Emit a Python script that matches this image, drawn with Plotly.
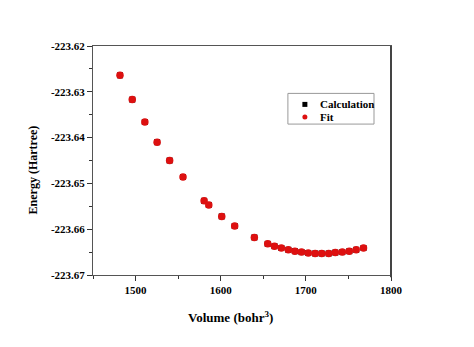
import plotly.graph_objects as go

# Unit-cell volume (bohr^3) and total energy (Hartree)
volume = [1481.7, 1496.1, 1510.9, 1525.3, 1540.0, 1555.7, 1580.5, 1586.0,
          1601.2, 1616.4, 1639.5, 1655.2, 1663.1, 1671.2, 1679.4, 1687.1,
          1694.9, 1702.8, 1710.9, 1718.6, 1726.8, 1734.6, 1742.8, 1751.0,
          1759.1, 1767.7]
energy_calc = [-223.6264, -223.6317, -223.6366, -223.6410, -223.6450, -223.6486,
               -223.6538, -223.6547, -223.6572, -223.6593, -223.6618, -223.6632,
               -223.6637, -223.6641, -223.6645, -223.6648, -223.6650, -223.6652,
               -223.6653, -223.6653, -223.6653, -223.6651, -223.6650, -223.6648,
               -223.6645, -223.6641]
energy_fit = list(energy_calc)

x_ticks = [1500, 1600, 1700, 1800]
y_ticks = [-223.62, -223.63, -223.64, -223.65, -223.66, -223.67]
series_names = ["Calculation", "Fit"]

serif = "Liberation Serif"
calc_color = "#000000"
fit_color = "#dd1010"

fig = go.Figure()
fig.add_trace(go.Scatter(
    x=volume, y=energy_calc, mode="markers", name=series_names[0],
    marker=dict(symbol="square", size=6, color=calc_color), showlegend=False,
))
fig.add_trace(go.Scatter(
    x=volume, y=energy_fit, mode="markers", name=series_names[1],
    marker=dict(symbol="circle", size=7.5, color=fit_color), showlegend=False,
))

axis_common = dict(
    showgrid=False, zeroline=False, showline=True, mirror=True,
    linecolor="#555555", linewidth=1,
    ticks="outside", ticklen=5, tickwidth=1, tickcolor="#333333",
    tickfont=dict(family=serif, size=11, color="#000000"),
)

fig.update_xaxes(
    range=[1450, 1800], tickvals=x_ticks, ticktext=[f"<b>{v}</b>" for v in x_ticks],
    minor=dict(dtick=50, tick0=1450, ticks="outside", ticklen=3, tickcolor="#333333"),
    **axis_common,
)
fig.update_yaxes(
    range=[-223.67, -223.62], tickvals=y_ticks,
    ticktext=[f"<b>{v:.2f}</b>" for v in y_ticks],
    minor=dict(dtick=0.005, tick0=-223.67, ticks="outside", ticklen=3, tickcolor="#333333"),
    **axis_common,
)

fig.add_annotation(text="<b>Volume (bohr<sup>3</sup>)</b>", xref="paper", yref="paper",
                   x=0.463, y=-0.185, showarrow=False,
                   font=dict(family=serif, size=13, color="#000000"),
                   xanchor="center", yanchor="middle")
fig.add_annotation(text="<b>Energy (Hartree)</b>", xref="paper", yref="paper",
                   x=-0.203, y=0.459, showarrow=False,
                   font=dict(family=serif, size=12, color="#000000"), textangle=-90,
                   xanchor="center", yanchor="middle")

# darker right-hand frame edge
fig.add_shape(type="line", xref="paper", yref="paper", x0=1, x1=1, y0=-0.01, y1=1,
              line=dict(color="#444444", width=2))

# legend box with marker swatches and labels
fig.add_shape(type="rect", xref="paper", yref="paper", x0=0.654, x1=0.943,
              y0=0.659, y1=0.793, line=dict(color="#999999", width=1),
              fillcolor="white", layer="above")
legend_rows = [(0.745, "square", calc_color), (0.690, "circle", fit_color)]
for (ly, kind, col), label in zip(legend_rows, series_names):
    fig.add_shape(type="rect" if kind == "square" else "circle",
                  xref="paper", yref="paper", xsizemode="pixel", ysizemode="pixel",
                  xanchor=0.711, yanchor=ly, x0=-2.5, x1=2.5, y0=-2.5, y1=2.5,
                  fillcolor=col, line=dict(width=0), layer="above")
    fig.add_annotation(text=f"<b>{label}</b>", xref="paper", yref="paper",
                       x=0.755, y=ly, xanchor="left", yanchor="middle",
                       showarrow=False, font=dict(family=serif, size=11, color="#000000"))

fig.update_layout(
    width=474, height=347,
    margin=dict(l=93, r=83, t=46, b=72),
    paper_bgcolor="white", plot_bgcolor="white",
    showlegend=False,
)

fig.write_html("out.html")
